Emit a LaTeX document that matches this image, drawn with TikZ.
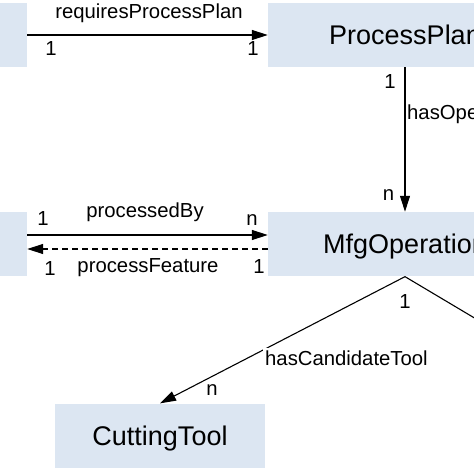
\documentclass[tikz,border=0pt]{standalone}
\usepackage{fontspec}
\setmainfont{Liberation Sans}
\usetikzlibrary{arrows.meta}
\definecolor{boxblue}{RGB}{220,230,242}
\begin{document}
\begin{tikzpicture}[x=1pt,y=-1pt,
  cls/.style={fill=boxblue, draw=none, minimum width=274pt, minimum height=64.5pt,
    inner sep=0pt, text height=19.4pt, text depth=0pt,
    font=\fontsize{27}{32}\selectfont},
  lbl/.style={font=\fontsize{20.3}{24}\selectfont, inner sep=0pt, anchor=base},
  rel/.style={line width=1.1pt, -{Triangle[length=16pt,width=10pt]}},
  dashrel/.style={rel, dash pattern=on 6pt off 4pt},
]
\useasboundingbox (0,0) rectangle (474,474);
\clip (0,0) rectangle (474,474);
% classes
\node[cls] (topleft) at (-110,35) {};
\node[cls] (plan) at (405,35) {ProcessPlan};
\node[cls] (midleft) at (-110,244.2) {};
\node[cls] (op) at (405,244.2) {MfgOperation};
\node[cls, minimum width=210pt] (tool) at (160,435.8) {CuttingTool};
\coordinate (offright) at (540,357);
% connectors
\draw[rel] (topleft.east) -- (plan.west);
\draw[rel] (plan.south) -- (op.north);
\draw[rel] ([yshift=9.2pt]midleft.east) -- ([yshift=9.2pt]op.west);
\draw[dashrel] ([yshift=-4.8pt]op.west) -- ([yshift=-4.8pt]midleft.east);
\draw[rel] (op.south) -- (tool.north);
\draw[line width=1.1pt] (op.south) -- (offright);
% labels
\node[lbl] (rpp) at (149,18) {requiresProcessPlan};
\node[lbl] (rpp1) at (51,55) {1};
\node[lbl] (rpp2) at (253,55) {1};
\node[lbl] (ho1) at (390,88) {1};
\node[lbl, anchor=base west] (ho) at (407,119) {hasOperation};
\node[lbl] (hon) at (388.5,200) {n};
\node[lbl] (pb) at (145,217) {processedBy};
\node[lbl] (pb1) at (43,225) {1};
\node[lbl] (pbn) at (252,225) {n};
\node[lbl] (pf) at (148,272) {processFeature};
\node[lbl] (pf1) at (50,275) {1};
\node[lbl] (pf2) at (259,273) {1};
\node[lbl] (hct1) at (405,308) {1};
\node[lbl, anchor=base west, fill=white, inner sep=2pt] (hct) at (263,365) {hasCandidateTool};
\node[lbl] (hctn) at (212,395) {n};
\end{tikzpicture}
\end{document}
